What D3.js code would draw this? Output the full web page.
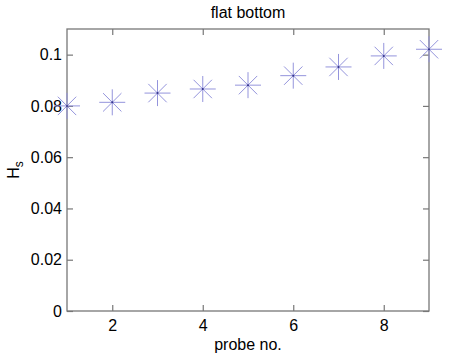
<!DOCTYPE html>
<html>
<head>
<meta charset="utf-8">
<script src="https://cdn.jsdelivr.net/npm/d3@7"></script>
<style>
  body { margin: 0; background: #fff; }
  text { font-family: "Liberation Sans", Arial, sans-serif; fill: #000; }
</style>
</head>
<body>
<svg id="chart" width="474" height="355"></svg>
<script>
// probe numbers and significant wave height
var probes = [1, 2, 3, 4, 5, 6, 7, 8, 9];
var hsValues = [0.0800, 0.0814, 0.0850, 0.0866, 0.0881, 0.0918, 0.0952, 0.0995, 0.1021];
var xTicks = [2, 4, 6, 8];
var yTicks = [0, 0.02, 0.04, 0.06, 0.08, 0.1];

var margin = {top: 29, right: 45, bottom: 44, left: 67},
    width = 474 - margin.left - margin.right,
    height = 355 - margin.top - margin.bottom;

var svg = d3.select("#chart");
var g = svg.append("g")
    .attr("transform", "translate(" + margin.left + "," + margin.top + ")");

var x = d3.scaleLinear().domain([1, 9]).range([0, width]);
var y = d3.scaleLinear().domain([0, 0.11]).range([height, 0]);

var axisColor = "#777";

// box
g.append("rect")
    .attr("width", width)
    .attr("height", height)
    .attr("fill", "none")
    .attr("stroke", axisColor)
    .attr("stroke-width", 1.3);

// ticks, drawn inward like matlab
function styleAxis(sel) {
  sel.select(".domain").remove();
  sel.selectAll(".tick line").attr("stroke", axisColor).attr("stroke-width", 1.2);
  sel.selectAll(".tick text").style("font-size", "16px");
}

g.append("g")
    .attr("transform", "translate(0," + height + ")")
    .call(d3.axisBottom(x).tickValues(xTicks).tickSize(-6).tickPadding(9).tickFormat(d3.format("d")))
    .call(styleAxis);
g.append("g")
    .call(d3.axisTop(x).tickValues(xTicks).tickSize(-6).tickFormat(""))
    .call(styleAxis);
g.append("g")
    .call(d3.axisLeft(y).tickValues(yTicks).tickSize(-6).tickPadding(5).tickFormat(function(d) { return d3.format("")(+d.toFixed(2)); }))
    .call(styleAxis);
g.append("g")
    .attr("transform", "translate(" + width + ",0)")
    .call(d3.axisRight(y).tickValues(yTicks).tickSize(-6).tickFormat(""))
    .call(styleAxis);

// asterisk markers
var r = 13, rd = r * Math.SQRT1_2;
var star = "M" + (-r) + ",0L" + r + ",0M0," + (-r) + "L0," + r +
    "M" + (-rd) + "," + (-rd) + "L" + rd + "," + rd +
    "M" + (-rd) + "," + rd + "L" + rd + "," + (-rd);

var pts = g.selectAll(".pt")
    .data(probes)
  .enter().append("g")
    .attr("class", "pt")
    .attr("transform", function(d, i) { return "translate(" + x(d) + "," + y(hsValues[i]) + ")"; });
pts.append("path")
    .attr("d", star)
    .attr("fill", "none")
    .attr("stroke", "#9494dc")
    .attr("stroke-width", 1);
pts.append("circle")
    .attr("r", 1)
    .attr("fill", "#33338a");

// labels
svg.append("text")
    .attr("x", margin.left + width / 2)
    .attr("y", 18)
    .attr("text-anchor", "middle")
    .style("font-size", "16px")
    .text("flat bottom");

svg.append("text")
    .attr("x", margin.left + width / 2)
    .attr("y", 350)
    .attr("text-anchor", "middle")
    .style("font-size", "16px")
    .text("probe no.");

var yl = svg.append("text")
    .attr("transform", "translate(19," + (margin.top + height / 2) + ") rotate(-90)")
    .attr("text-anchor", "middle")
    .style("font-size", "16px");
yl.append("tspan").text("H");
yl.append("tspan").attr("dy", 4).style("font-size", "12px").text("s");
</script>
</body>
</html>
